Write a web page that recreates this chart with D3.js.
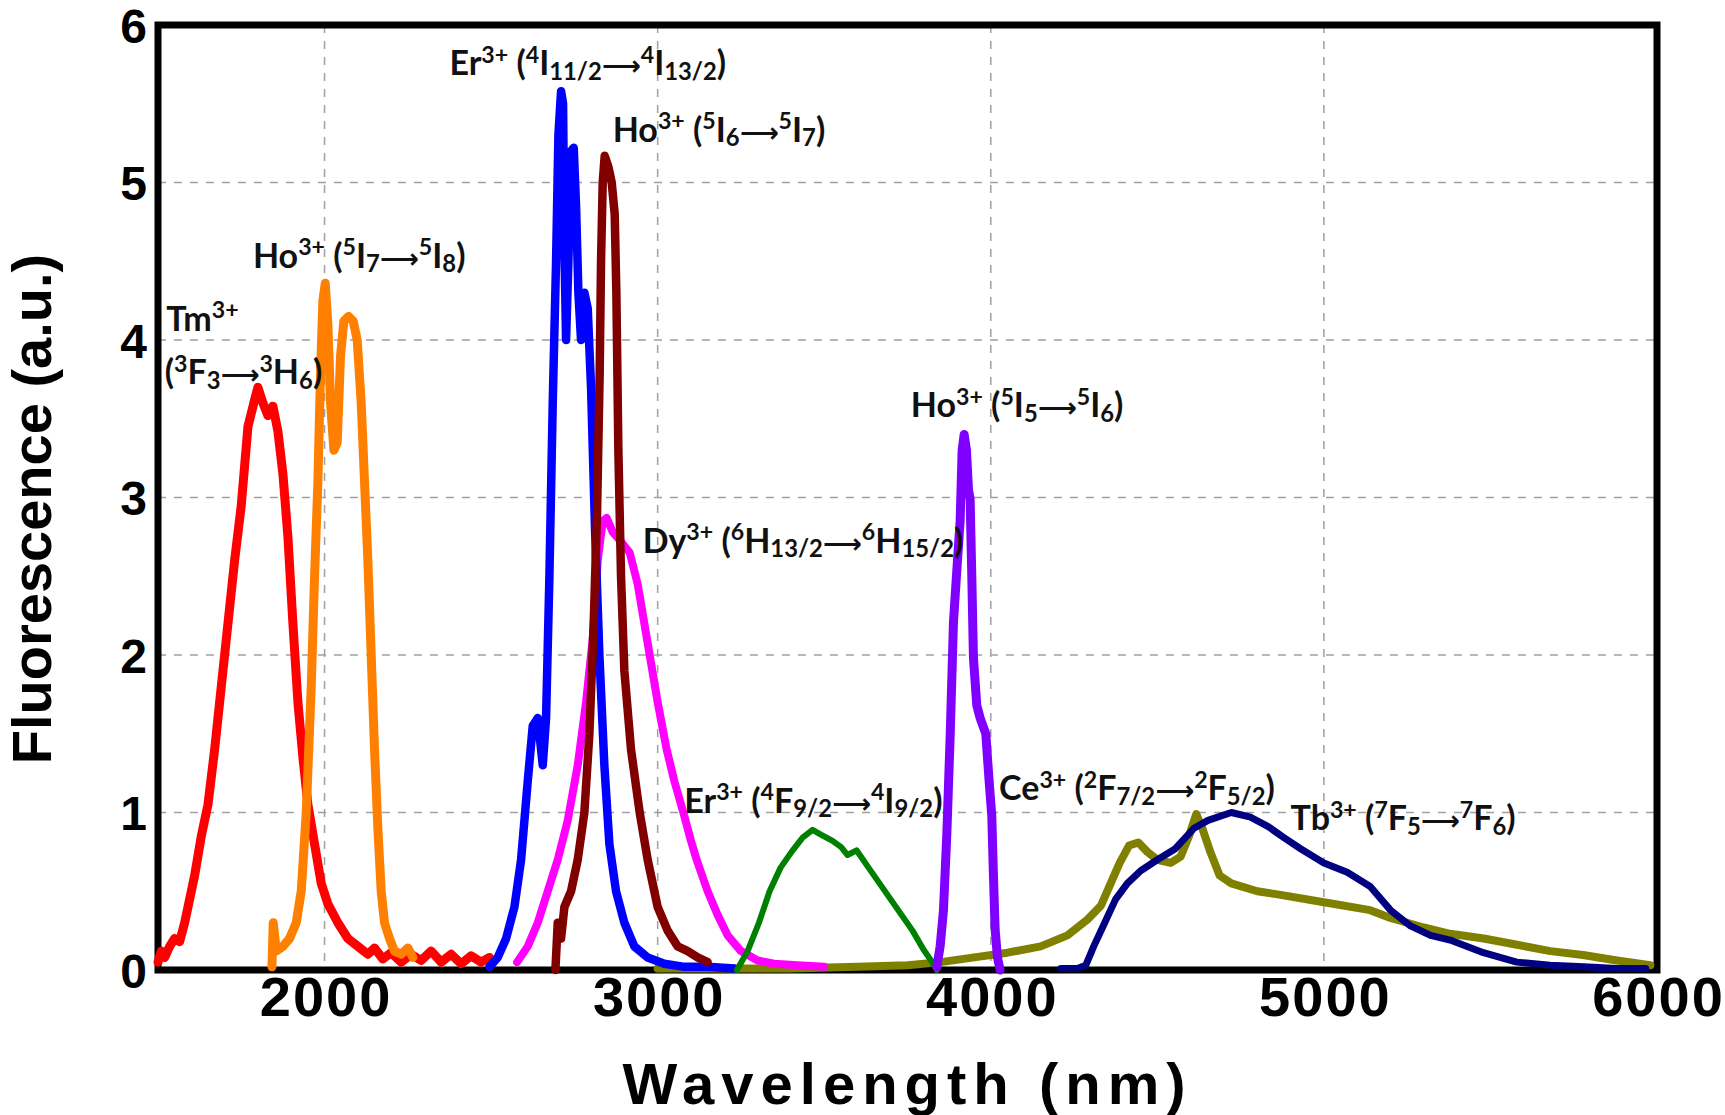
<!DOCTYPE html>
<html>
<head>
<meta charset="utf-8">
<script src="https://cdn.jsdelivr.net/npm/d3@7"></script>
<style>
  body { margin: 0; background: #ffffff; }
</style>
</head>
<body>
<div id="chart"></div>
<script>
// axis ticks / grid
const xTicks = [2000, 3000, 4000, 5000, 6000];
const yTicks = [0, 1, 2, 3, 4, 5, 6];
const xGrid = [2000, 3000, 4000, 5000];
const yGrid = [1, 2, 3, 4, 5];

// spectra: [wavelength nm, fluorescence a.u.]
const tm = [[1500,0.05],[1510,0.12],[1520,0.08],[1535,0.15],[1550,0.2],[1565,0.18],[1580,0.3],[1595,0.45],
  [1610,0.6],[1630,0.85],[1650,1.05],[1670,1.4],[1690,1.8],[1710,2.2],[1730,2.6],[1750,2.95],[1770,3.45],
  [1790,3.62],[1800,3.7],[1815,3.6],[1830,3.52],[1845,3.58],[1860,3.42],[1875,3.15],[1890,2.75],[1905,2.2],
  [1920,1.7],[1935,1.35],[1950,1.05],[1970,0.8],[1990,0.55],[2010,0.42],[2040,0.3],[2070,0.2],[2100,0.15],
  [2130,0.1],[2150,0.14],[2175,0.07],[2200,0.11],[2230,0.05],[2260,0.1],[2290,0.06],[2320,0.12],[2350,0.05],
  [2380,0.1],[2410,0.04],[2440,0.09],[2470,0.05],[2495,0.08]];
const ho2 = [[1842,0.02],[1846,0.3],[1855,0.12],[1875,0.15],[1895,0.2],[1915,0.3],[1930,0.5],[1945,1.0],
  [1960,1.8],[1970,2.5],[1980,3.1],[1988,3.8],[1995,4.25],[2002,4.36],[2010,4.1],[2018,3.6],[2028,3.3],
  [2038,3.35],[2048,3.9],[2058,4.12],[2072,4.15],[2086,4.12],[2098,4.0],[2110,3.6],[2120,3.1],[2130,2.6],
  [2140,2.0],[2150,1.4],[2160,0.9],[2170,0.5],[2180,0.3],[2195,0.2],[2210,0.12],[2230,0.1],[2250,0.14],[2265,0.08]];
const er3 = [[2495,0.02],[2520,0.08],[2545,0.2],[2570,0.4],[2590,0.7],[2610,1.2],[2625,1.55],[2640,1.6],
  [2655,1.3],[2665,1.6],[2675,2.5],[2685,3.6],[2695,4.5],[2702,5.3],[2710,5.58],[2716,5.5],[2720,4.6],
  [2725,4.0],[2732,4.5],[2740,5.2],[2748,5.22],[2755,4.85],[2762,4.3],[2770,4.0],[2780,4.3],[2790,4.2],
  [2800,3.7],[2812,2.8],[2825,2.0],[2840,1.3],[2855,0.8],[2875,0.5],[2900,0.3],[2930,0.15],[2970,0.08],
  [3020,0.04],[3080,0.02],[3150,0.02],[3230,0.01]];
const ho3 = [[2693,0.0],[2700,0.3],[2710,0.2],[2720,0.4],[2740,0.5],[2760,0.7],[2780,1.0],[2795,1.5],
  [2808,2.2],[2818,2.9],[2826,3.8],[2830,4.5],[2835,5.0],[2841,5.17],[2852,5.1],[2862,5.0],[2871,4.8],
  [2876,4.3],[2882,3.3],[2890,2.5],[2900,1.9],[2920,1.4],[2946,1.0],[2970,0.7],[3000,0.4],[3030,0.25],
  [3060,0.15],[3090,0.12],[3120,0.08],[3150,0.05]];
const dy3 = [[2578,0.05],[2610,0.15],[2640,0.3],[2670,0.5],[2700,0.7],[2730,0.95],[2760,1.3],[2785,1.7],
  [2805,2.1],[2820,2.6],[2835,2.85],[2847,2.87],[2865,2.78],[2890,2.72],[2916,2.65],[2940,2.45],[2960,2.2],
  [2976,2.0],[3000,1.7],[3027,1.4],[3050,1.2],[3077,1.0],[3100,0.82],[3117,0.7],[3150,0.5],[3180,0.35],
  [3210,0.22],[3250,0.12],[3300,0.06],[3350,0.04],[3420,0.03],[3500,0.02]];
const er4 = [[3238,0.0],[3270,0.12],[3304,0.3],[3336,0.5],[3369,0.65],[3402,0.75],[3435,0.84],[3465,0.89],
  [3490,0.86],[3525,0.82],[3551,0.78],[3570,0.73],[3597,0.76],[3633,0.65],[3666,0.55],[3699,0.45],
  [3732,0.35],[3765,0.25],[3798,0.13],[3824,0.05],[3838,0.0]];
const ho5 = [[3838,0.02],[3848,0.15],[3858,0.38],[3868,0.86],[3878,1.48],[3888,2.21],[3900,2.6],[3908,2.85],
  [3914,3.3],[3920,3.4],[3927,3.3],[3933,3.05],[3938,2.99],[3943,2.5],[3948,1.98],[3958,1.68],[3968,1.6],
  [3985,1.5],[3995,1.2],[4003,0.98],[4008,0.6],[4013,0.26],[4020,0.08],[4028,0.0]];
const ce3 = [[3000,0.01],[3200,0.01],[3400,0.01],[3600,0.02],[3750,0.03],[3850,0.05],[3950,0.08],[4050,0.11],
  [4150,0.15],[4230,0.22],[4290,0.32],[4331,0.41],[4360,0.55],[4387,0.68],[4415,0.79],[4443,0.81],
  [4470,0.75],[4500,0.7],[4540,0.68],[4570,0.72],[4595,0.85],[4617,0.99],[4635,0.9],[4659,0.75],[4687,0.6],
  [4722,0.55],[4800,0.5],[4861,0.48],[5000,0.43],[5139,0.38],[5200,0.33],[5300,0.27],[5379,0.23],
  [5480,0.2],[5580,0.16],[5680,0.12],[5778,0.095],[5880,0.06],[5980,0.03]];
const tb3 = [[4210,0.01],[4260,0.01],[4285,0.03],[4309,0.15],[4342,0.3],[4375,0.45],[4410,0.55],[4450,0.63],
  [4500,0.7],[4554,0.77],[4610,0.9],[4652,0.95],[4722,1.0],[4780,0.97],[4833,0.91],[4880,0.84],[4930,0.77],
  [5000,0.68],[5070,0.62],[5139,0.53],[5200,0.38],[5260,0.28],[5320,0.22],[5379,0.19],[5479,0.11],
  [5579,0.05],[5679,0.03],[5780,0.02],[5880,0.01],[5966,0.01]];

const series = [
  { data: ce3, color: "#808000", w: 8 },
  { data: tb3, color: "#000080", w: 7 },
  { data: tm, color: "#ff0000", w: 9 },
  { data: ho2, color: "#ff8000", w: 9 },
  { data: dy3, color: "#ff00ff", w: 8 },
  { data: er3, color: "#0000ff", w: 8.5 },
  { data: ho3, color: "#800000", w: 8.5 },
  { data: er4, color: "#008000", w: 6 },
  { data: ho5, color: "#8000ff", w: 9 }
];

// transition labels: ^{..} superscript, _{..} subscript
const labels = [
  { text: "Er^{3+} (^{4}I_{11/2}→^{4}I_{13/2})", x: 2375, y: 5.68 },
  { text: "Ho^{3+} (^{5}I_{6}→^{5}I_{7})", x: 2865, y: 5.26 },
  { text: "Ho^{3+} (^{5}I_{7}→^{5}I_{8})", x: 1785, y: 4.46 },
  { text: "Tm^{3+}", x: 1525, y: 4.06 },
  { text: "(^{3}F_{3}→^{3}H_{6})", x: 1520, y: 3.72 },
  { text: "Ho^{3+} (^{5}I_{5}→^{5}I_{6})", x: 3760, y: 3.51 },
  { text: "Dy^{3+} (^{6}H_{13/2}→^{6}H_{15/2})", x: 2955, y: 2.65 },
  { text: "Er^{3+} (^{4}F_{9/2}→^{4}I_{9/2})", x: 3080, y: 1.0 },
  { text: "Ce^{3+} (^{2}F_{7/2}→^{2}F_{5/2})", x: 4025, y: 1.08 },
  { text: "Tb^{3+} (^{7}F_{5}→^{7}F_{6})", x: 4900, y: 0.89 }
];

const W = 1725, H = 1115;
const margin = { left: 158, right: 68, top: 25, bottom: 145 };
const width = W - margin.left - margin.right;
const height = H - margin.top - margin.bottom;

const svg = d3.select("#chart").append("svg")
  .attr("width", W).attr("height", H);

const g = svg.append("g")
  .attr("transform", `translate(${margin.left}, ${margin.top})`);

const x = d3.scaleLinear().domain([1500, 6000]).range([0, width]);
const y = d3.scaleLinear().domain([0, 6]).range([height, 0]);

// dashed grid
g.selectAll(".vgrid").data(xGrid).enter().append("line")
  .attr("x1", d => x(d)).attr("x2", d => x(d))
  .attr("y1", 0).attr("y2", height)
  .attr("stroke", "#a0a0a0").attr("stroke-width", 1.5)
  .attr("stroke-dasharray", "8,8");
g.selectAll(".hgrid").data(yGrid).enter().append("line")
  .attr("x1", 0).attr("x2", width)
  .attr("y1", d => y(d)).attr("y2", d => y(d))
  .attr("stroke", "#a0a0a0").attr("stroke-width", 1.5)
  .attr("stroke-dasharray", "8,8");

// frame
g.append("rect")
  .attr("x", 0).attr("y", 0)
  .attr("width", width).attr("height", height)
  .attr("fill", "none").attr("stroke", "#000").attr("stroke-width", 7);

// tick labels
const yAxis = d3.axisLeft(y).tickValues(yTicks).tickSize(0).tickPadding(11).tickFormat(d3.format("d"));
g.append("g").call(yAxis)
  .call(a => a.select(".domain").remove())
  .selectAll("text")
  .attr("font-family", "'Liberation Sans', Arial, sans-serif")
  .attr("font-weight", "bold").attr("font-size", 48)
  .attr("dy", "0.36em")
  .attr("fill", "#000");

const xAxis = d3.axisBottom(x).tickValues(xTicks).tickSize(0).tickPadding(6).tickFormat(d3.format("d"));
g.append("g").attr("transform", `translate(0, ${height})`).call(xAxis)
  .call(a => a.select(".domain").remove())
  .selectAll("text")
  .attr("font-family", "'Liberation Sans', Arial, sans-serif")
  .attr("font-weight", "bold").attr("font-size", 56)
  .attr("letter-spacing", "2px").attr("dx", 1)
  .attr("fill", "#000");

// spectra
const line = d3.line().x(d => x(d[0])).y(d => y(d[1]));
g.selectAll(".spec").data(series).enter().append("path")
  .attr("d", d => line(d.data))
  .attr("fill", "none")
  .attr("stroke", d => d.color)
  .attr("stroke-width", d => d.w)
  .attr("stroke-linejoin", "round")
  .attr("stroke-linecap", "round");

// axis titles
svg.append("text")
  .attr("x", margin.left + width / 2).attr("y", 1104)
  .attr("text-anchor", "middle")
  .attr("font-family", "'Liberation Sans', Arial, sans-serif")
  .attr("font-weight", "bold").attr("font-size", 58)
  .attr("letter-spacing", "7px")
  .text("Wavelength (nm)");

svg.append("text")
  .attr("transform", "translate(51, 509) rotate(-90)")
  .attr("text-anchor", "middle")
  .attr("font-family", "'Liberation Sans', Arial, sans-serif")
  .attr("font-weight", "bold").attr("font-size", 56)
  .text("Fluorescence (a.u.)");

// annotation labels
function parseLabel(s) {
  const out = [];
  const re = /\^\{([^}]*)\}|_\{([^}]*)\}|(→)|([^\^_→]+)/g;
  let m;
  while ((m = re.exec(s)) !== null) {
    if (m[1] !== undefined) out.push({ t: m[1], kind: "sup" });
    else if (m[2] !== undefined) out.push({ t: m[2], kind: "sub" });
    else if (m[3] !== undefined) out.push({ t: "⟶", kind: "arrow" });
    else out.push({ t: m[4], kind: "base" });
  }
  return out;
}

const fs = 34;
const shift = { base: 0, sup: -0.36 * fs, sub: 0.14 * fs, arrow: 0 };
const size = { base: fs, sup: fs * 0.68, sub: fs * 0.7, arrow: fs * 0.8 };

labels.forEach(l => {
  const t = g.append("text")
    .attr("x", x(l.x)).attr("y", y(l.y))
    .attr("font-family", "Lato, 'Open Sans', sans-serif")
    .attr("font-weight", "bold")
    .attr("font-size", fs)
    .attr("fill", "#111");
  let cur = 0;
  parseLabel(l.text).forEach(p => {
    const ts = t.append("tspan")
      .attr("dy", shift[p.kind] - cur)
      .attr("font-size", size[p.kind])
      .text(p.t);
    if (p.kind === "arrow") ts.attr("font-family", "'DejaVu Sans', sans-serif");
    cur = shift[p.kind];
  });
});
</script>
</body>
</html>
